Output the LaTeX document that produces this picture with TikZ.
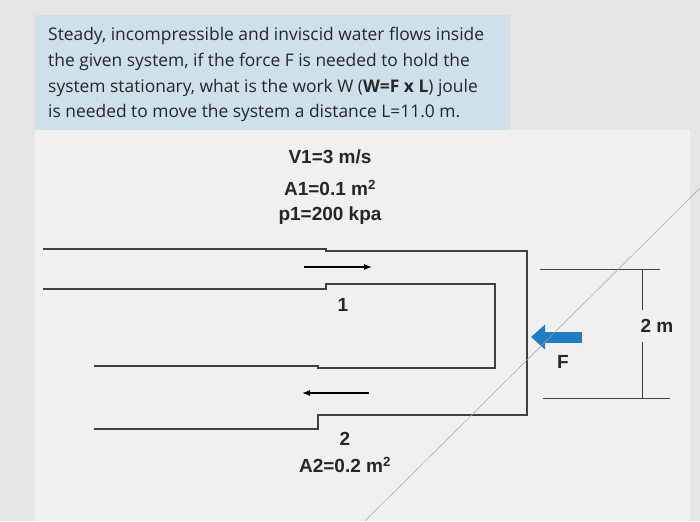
\documentclass[tikz,border=0pt]{standalone}
\usepackage{fontspec}
\usetikzlibrary{arrows.meta}
\setmainfont{Liberation Sans}
\newfontfamily\qfont{Open Sans}
\definecolor{boxc}{RGB}{206,224,234}
\definecolor{fblue}{RGB}{30,125,195}
\begin{document}
\begin{tikzpicture}[x=1pt,y=-1pt,
  pipe/.style={line width=1.3pt,draw=black!75},
  lbl/.style={font=\bfseries\fontsize{19}{22}\selectfont,inner sep=0pt,text=black!85},
  qt/.style={font=\qfont\fontsize{17.4}{26}\selectfont,anchor=west,inner sep=0pt,text=black!85}]
\useasboundingbox (0,0) rectangle (700,521);
\fill[black!10] (0,0) rectangle (700,521);
\fill[black!6] (35,130) rectangle (690,521);
\fill[boxc] (35,15) rectangle (510,130);
\node[qt] (l1) at (48,36) {Steady, incompressible and inviscid water flows inside};
\node[qt] (l2) at (48,62) {the given system, if the force F is needed to hold the};
\node[qt] (l3) at (48,88) {system stationary, what is the work W (\textbf{W=F x L}) joule};
\node[qt] (l4) at (48,113) {is needed to move the system a distance L=11.0 m.};
\node[lbl] (v1) at (330,157) {V1=3 m/s};
\node[lbl] (a1) at (330,188) {A1=0.1 m$^{\mathbf 2}$};
\node[lbl] (p1) at (330,216) {p1=200 kpa};
\node[lbl] (n1) at (343,305) {1};
\node[lbl] (n2) at (345,439) {2};
\node[lbl] (a2) at (345,465) {A2=0.2 m$^{\mathbf 2}$};
% pipes
\draw[pipe] (43,249) -- (326,249) -- (326,251) -- (527,251) -- (527,415) -- (318,415) -- (318,429) -- (94,429);
\draw[pipe] (43,289) -- (326,289) -- (326,284) -- (495,284) -- (495,368) -- (318,368) -- (318,366) -- (94,366);
\coordinate (ta) at (304,267); \coordinate (tb) at (372,267);
\coordinate (ba) at (369,393); \coordinate (bb) at (302,393);
\draw[line width=1.2pt,-{Latex[length=8pt]}] (ta) -- (tb);
\draw[line width=1.2pt,-{Latex[length=8pt]}] (ba) -- (bb);
% force
\coordinate (fa) at (582,337); \coordinate (fb) at (531,337);
\draw[line width=11pt,draw=fblue,-{Triangle[length=14pt,width=24pt]}] (fa) -- (fb);
\node[lbl] (F) at (563,362) {F};
% dimension
\coordinate (d1) at (540,269); \coordinate (d2) at (660,269);
\coordinate (d3) at (543,398); \coordinate (d4) at (670,398);
\draw[line width=1pt,black!75] (d1) -- (d2) (d3) -- (d4);
\draw[line width=1pt,black!75] (642,269) -- (642,310) (642,342) -- (642,398);
\node[lbl] (dm) at (657,326) {2 m};
% reflection line
\draw[black!35,line width=0.5pt] (700,188) -- (365,521);
\end{tikzpicture}
\end{document}
